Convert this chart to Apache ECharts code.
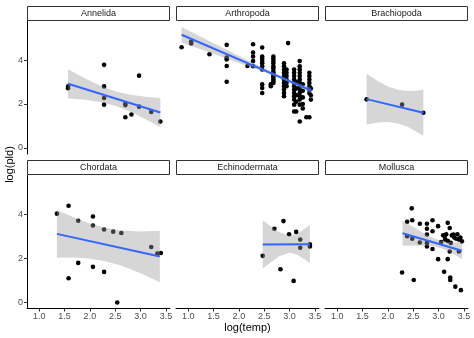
<!DOCTYPE html>
<html><head><meta charset="utf-8">
<script src="https://cdn.jsdelivr.net/npm/echarts@6.0.0/dist/echarts.min.js"></script>
<style>html,body{margin:0;padding:0;background:#fff}#c{width:474px;height:338px}</style>
</head><body><div id="c"></div>
<script>
const phyla = ['Annelida','Arthropoda','Brachiopoda','Chordata','Echinodermata','Mollusca'];
const xTicks = [1.0,1.5,2.0,2.5,3.0,3.5];
const yTicks = [0,2,4];
const xTitle = 'log(temp)';
const yTitle = 'log(pld)';

const annelidaPts = [[1.57,2.80],[1.57,2.72],[2.28,3.78],[2.28,2.80],[2.28,2.27],[2.28,1.97],[2.70,2.01],[2.70,1.95],[2.70,1.40],[2.82,1.52],[2.97,3.29],[2.97,1.88],[3.21,1.64],[3.39,1.20]];
const annelidaFit = [[1.57,2.92],[3.39,1.61]];
const annelidaBand = [[1.57,2.26,3.58],[1.9,2.19,3.17],[2.2,2.09,2.84],[2.5,1.92,2.58],[2.8,1.65,2.42],[3.1,1.31,2.33],[3.39,0.95,2.27]];

const arthropodaPts = [[0.87,4.58],[1.06,4.84],[1.06,4.75],[1.42,4.26],
[1.76,4.69],[1.76,4.11],[1.76,4.03],[1.76,3.73],[1.76,3.01],[2.17,3.73],
[2.28,4.72],[2.28,4.34],[2.28,4.16],[2.28,3.95],[2.28,3.72],
[2.46,4.57],[2.46,4.16],[2.46,4.06],[2.46,3.95],[2.46,3.85],[2.46,3.72],[2.46,3.57],[2.46,2.89],[2.46,2.73],[2.46,2.50],
[2.63,2.89],[2.63,2.81],
[2.68,4.16],[2.68,4.06],[2.68,3.95],[2.68,3.85],[2.68,3.72],[2.68,3.62],[2.68,3.50],[2.68,3.42],[2.68,3.35],[2.68,3.27],[2.68,3.20],[2.68,3.11],[2.68,3.03],[2.68,2.96],
[2.89,3.85],[2.89,3.72],[2.89,3.57],[2.89,3.42],[2.89,3.27],[2.89,3.11],[2.89,2.96],[2.89,2.81],[2.89,2.66],[2.89,2.50],[2.89,2.35],
[2.94,3.57],[2.94,3.42],[2.94,3.27],[2.94,3.11],[2.94,2.96],[2.94,2.81],[2.97,4.77],
[3.09,3.57],[3.09,3.42],[3.09,3.27],[3.09,3.11],[3.09,2.96],[3.09,2.81],[3.09,2.66],[3.09,2.50],[3.09,2.35],[3.09,2.20],[3.09,1.97],[3.09,1.66],
[3.13,3.0],[3.13,2.7],[3.13,2.4],[3.13,2.1],[3.13,1.66],
[3.20,3.95],[3.20,3.72],[3.20,3.57],[3.20,3.42],[3.20,3.27],[3.20,3.11],[3.20,2.96],[3.20,2.81],[3.20,2.66],[3.20,2.50],[3.20,2.35],[3.20,2.20],[3.20,1.97],[3.20,1.20],
[3.26,2.9],[3.26,2.6],[3.26,2.3],[3.26,2.0],[3.26,1.8],[3.33,1.40],
[3.39,3.42],[3.39,3.27],[3.39,3.11],[3.39,2.96],[3.39,2.81],[3.39,2.66],[3.39,2.50],[3.39,1.40],
[3.42,2.7],[3.42,2.4],[3.42,2.2]];
const arthropodaFit = [[0.87,5.15],[3.43,2.61]];
const arthropodaBand = [[0.87,4.80,5.50],[1.3,4.45,5.00],[1.7,4.12,4.53],[2.1,3.79,4.07],[2.5,3.46,3.62],[2.9,3.08,3.20],[3.2,2.75,2.93],[3.43,2.48,2.74]];

const brachiopodaPts = [[1.58,2.21],[2.28,1.97],[2.70,1.60]];
const brachiopodaFit = [[1.58,2.22],[2.70,1.60]];
const brachiopodaBand = [[1.58,1.07,3.37],[1.8,1.16,3.04],[2.0,1.18,2.80],[2.2,1.11,2.65],[2.4,0.95,2.59],[2.55,0.76,2.60],[2.70,0.55,2.65]];

const chordataPts = [[1.35,4.04],[1.58,4.40],[1.58,1.10],[1.77,3.72],[1.77,1.80],[2.06,3.91],[2.06,3.50],[2.06,1.62],[2.28,3.32],[2.28,1.39],[2.46,3.22],[2.54,0.0],[2.62,3.16],[3.21,2.52],[3.33,2.22],[3.40,2.25]];
const chordataFit = [[1.35,3.12],[3.38,2.09]];
const chordataBand = [[1.35,2.03,4.21],[1.7,2.04,3.85],[2.0,1.99,3.59],[2.3,1.88,3.40],[2.6,1.69,3.28],[3.0,1.33,3.23],[3.38,0.92,3.26]];

const echinodermataPts = [[2.47,2.12],[2.70,3.35],[2.82,1.51],[2.88,3.70],[2.99,3.10],[3.08,0.98],[3.13,3.21],[3.21,2.86],[3.21,2.49],[3.40,2.64],[3.40,2.55]];
const echinodermataFit = [[2.47,2.64],[3.40,2.65]];
const echinodermataBand = [[2.47,1.54,3.74],[2.65,1.86,3.42],[2.8,2.10,3.19],[3.0,2.27,3.03],[3.15,2.17,3.13],[3.3,1.95,3.35],[3.40,1.78,3.52]];

const molluscaPts = [[2.47,4.28],[2.38,3.67],[2.48,3.74],[2.38,3.01],[2.48,2.90],[2.63,3.58],[2.63,2.73],[2.77,3.58],[2.77,3.35],[2.77,3.09],[2.77,2.71],[2.77,2.55],[2.88,3.74],[2.88,3.24],[2.88,2.43],[2.99,3.47],[2.99,1.97],[3.09,3.06],[3.13,2.86],[3.18,3.62],[3.22,3.39],[3.18,1.97],[3.29,3.09],[3.18,2.80],[3.24,2.71],[3.40,2.86],[3.46,2.78],[3.22,2.32],[3.40,2.32],[2.28,1.36],[2.51,1.02],[3.11,1.40],[3.23,1.02],[3.23,1.13],[3.33,0.72],[3.44,0.56],[3.12,3.00],[3.15,3.10],[3.26,3.05],[3.31,2.95],[3.35,2.90],[3.37,3.10],[3.43,2.95],[3.05,2.75]];
const molluscaFit = [[2.29,3.15],[3.46,2.35]];
const molluscaBand = [[2.29,2.58,3.72],[2.5,2.59,3.43],[2.7,2.59,3.16],[2.9,2.56,2.92],[3.1,2.43,2.77],[3.3,2.19,2.73],[3.46,1.97,2.73]];

const panelPts = [annelidaPts,arthropodaPts,brachiopodaPts,chordataPts,echinodermataPts,molluscaPts];
const panelFit = [annelidaFit,arthropodaFit,brachiopodaFit,chordataFit,echinodermataFit,molluscaFit];
const panelBand = [annelidaBand,arthropodaBand,brachiopodaBand,chordataBand,echinodermataBand,molluscaBand];

const FONT = '"Liberation Sans", Arial, sans-serif';
const colLeft = [27,176,325], colW = 143;
const rowTop = [21,175.5], rowH = 133;
const stripTop = [6,160], stripH = 15;
const X_MIN = 0.76, X_MAX = 3.58, Y_MIN = -0.275, Y_MAX = 5.775;

const grids = [], xAxes = [], yAxes = [], series = [], graphics = [];
phyla.forEach((name, i) => {
  const col = i % 3, row = Math.floor(i / 3);
  grids.push({left: colLeft[col], top: rowTop[row], width: colW, height: rowH});
  const showX = row === 1, showY = col === 0;
  xAxes.push({type: 'value', gridIndex: i, min: X_MIN, max: X_MAX,
    splitLine: {show: false},
    axisLine: {show: showX, onZero: false, lineStyle: {color: '#000', width: 1}},
    axisTick: {show: showX, customValues: xTicks, length: 3, lineStyle: {color: '#333', width: 1}},
    axisLabel: {show: showX, customValues: xTicks, formatter: v => Number(v).toFixed(1), color: '#4D4D4D', fontSize: 9, fontFamily: FONT, margin: 4}
  });
  yAxes.push({type: 'value', gridIndex: i, min: Y_MIN, max: Y_MAX,
    splitLine: {show: false},
    axisLine: {show: showY, onZero: false, lineStyle: {color: '#000', width: 1}},
    axisTick: {show: showY, customValues: yTicks, length: 3, lineStyle: {color: '#333', width: 1}},
    axisLabel: {show: showY, customValues: yTicks, formatter: v => String(v), color: '#4D4D4D', fontSize: 9, fontFamily: FONT, margin: 4}
  });
  series.push({type: 'scatter', xAxisIndex: i, yAxisIndex: i, data: panelPts[i], symbolSize: 4.6,
    itemStyle: {color: '#000', opacity: 1}, z: 2, silent: true});
  const band = panelBand[i];
  series.push({type: 'custom', xAxisIndex: i, yAxisIndex: i, data: band, z: 3, silent: true,
    encode: {x: 0, y: [1, 2]},
    renderItem: (params, api) => {
      if (params.dataIndex !== 0) return null;
      const up = band.map(r => api.coord([r[0], r[2]]));
      const lo = band.slice().reverse().map(r => api.coord([r[0], r[1]]));
      return {type: 'polygon', shape: {points: up.concat(lo)}, style: {fill: 'rgba(153,153,153,0.4)'}};
    }});
  series.push({type: 'line', xAxisIndex: i, yAxisIndex: i, data: panelFit[i], showSymbol: false,
    lineStyle: {color: '#3366FF', width: 2}, z: 4, silent: true});
  graphics.push({type: 'rect', shape: {x: colLeft[col] + 0.5, y: stripTop[row] + 0.5, width: colW - 1, height: stripH - 1},
    style: {fill: '#fff', stroke: '#333', lineWidth: 1}});
  graphics.push({type: 'text', x: colLeft[col] + colW / 2, y: stripTop[row] + stripH / 2,
    style: {text: name, fill: '#1A1A1A', font: '9px ' + FONT, align: 'center', verticalAlign: 'middle'}});
});
graphics.push({type: 'text', x: 247.5, y: 328, style: {text: xTitle, fill: '#000', font: '11px ' + FONT, align: 'center', verticalAlign: 'middle'}});
graphics.push({type: 'text', x: 10, y: 164.5, rotation: Math.PI / 2, style: {text: yTitle, fill: '#000', font: '11px ' + FONT, align: 'center', verticalAlign: 'middle'}});

const chart = echarts.init(document.getElementById('c'), null, {renderer: 'canvas'});
chart.setOption({backgroundColor: '#fff', animation: false, grid: grids, xAxis: xAxes, yAxis: yAxes, series: series, graphic: graphics});
</script></body></html>
